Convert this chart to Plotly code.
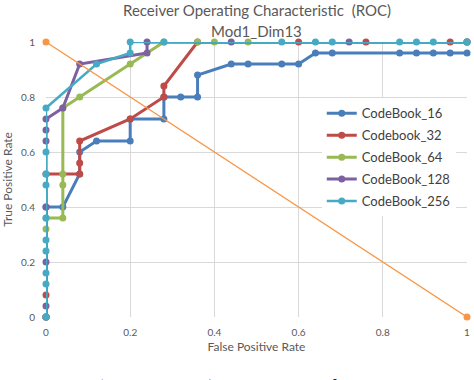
import plotly.graph_objects as go

# ---- data ----
series_names = ["CodeBook_16", "Codebook_32", "CodeBook_64", "CodeBook_128", "CodeBook_256"]

fpr_16 = [0, 0, 0.04, 0.08, 0.08, 0.12, 0.2, 0.2, 0.28, 0.28, 0.32, 0.36, 0.36, 0.44, 0.48, 0.56, 0.6, 0.64, 0.68, 0.84, 0.88, 0.92, 0.96, 1.0]
tpr_16 = [0, 0.4, 0.4, 0.52, 0.6, 0.64, 0.64, 0.72, 0.72, 0.8, 0.8, 0.8, 0.88, 0.92, 0.92, 0.92, 0.92, 0.96, 0.96, 0.96, 0.96, 0.96, 0.96, 0.96]

fpr_32 = [0, 0, 0, 0.08, 0.08, 0.08, 0.2, 0.28, 0.28, 0.36, 0.6, 0.76, 0.96, 1.0]
tpr_32 = [0, 0.08, 0.52, 0.52, 0.56, 0.64, 0.72, 0.8, 0.84, 1, 1, 1, 1, 1]

fpr_64 = [0, 0, 0, 0.04, 0.04, 0.04, 0.04, 0.08, 0.2, 0.28, 0.36, 0.4, 0.48, 1.0]
tpr_64 = [0, 0.32, 0.36, 0.36, 0.48, 0.52, 0.76, 0.8, 0.92, 1, 1, 1, 1, 1]

fpr_128 = [0, 0, 0, 0, 0, 0, 0, 0.04, 0.08, 0.24, 0.24, 0.44, 0.72, 1.0]
tpr_128 = [0, 0.04, 0.2, 0.4, 0.64, 0.68, 0.72, 0.76, 0.92, 0.96, 1, 1, 1, 1]

fpr_256 = [0, 0, 0, 0, 0, 0, 0, 0, 0, 0, 0.12, 0.2, 0.2, 0.28, 0.56, 0.64, 0.68, 0.84, 0.88, 0.92, 1.0]
tpr_256 = [0, 0.12, 0.16, 0.24, 0.28, 0.36, 0.48, 0.52, 0.6, 0.76, 0.92, 0.96, 1, 1, 1, 1, 1, 1, 1, 1, 1]

fpr_rand = [0, 1]
tpr_rand = [1, 0]

tick_vals = [0, 0.2, 0.4, 0.6, 0.8, 1]
tick_text = ["0", "0.2", "0.4", "0.6", "0.8", "1"]

# ---- style ----
colors = ["#4A7EBB", "#BE4B48", "#98B954", "#7D60A0", "#46AAC5"]
widths = [3, 3, 3, 3, 2.5]
FONT = "Lato"

fig = go.Figure()
all_x = [fpr_16, fpr_32, fpr_64, fpr_128, fpr_256]
all_y = [tpr_16, tpr_32, tpr_64, tpr_128, tpr_256]
for name, xs, ys, c, w in zip(series_names, all_x, all_y, colors, widths):
    fig.add_trace(go.Scatter(
        x=xs, y=ys, name=name, mode="lines+markers", legendgroup=name,
        line=dict(color=c, width=w),
        marker=dict(color=c, size=7),
        cliponaxis=False,
    ))

fig.add_trace(go.Scatter(
    x=fpr_rand, y=tpr_rand, mode="lines+markers", showlegend=False,
    line=dict(color="#F79646", width=1.3),
    marker=dict(color="#F79646", size=7),
    cliponaxis=False,
))

axis_common = dict(
    range=[0, 1], tickvals=tick_vals, ticktext=tick_text,
    showgrid=True, gridcolor="#D9D9D9", gridwidth=1,
    zeroline=False, showline=False, automargin=False,
    ticklabeloverflow="allow",
    tickfont=dict(family=FONT, size=10, color="#595959"),
    fixedrange=True,
)

fig.update_layout(
    width=474, height=380,
    margin=dict(l=46, r=7, t=42, b=63),
    paper_bgcolor="white", plot_bgcolor="white",
    font=dict(family=FONT, color="#595959"),
    xaxis=dict(**axis_common, ticklabelstandoff=8,
               title=dict(text="False Positive Rate", font=dict(family=FONT, size=12, color="#595959"), standoff=5)),
    yaxis=dict(**axis_common, ticklabelstandoff=10,
               title=dict(text="True Positive Rate", font=dict(family=FONT, size=12, color="#595959"), standoff=5)),
    legend=dict(
        x=0.655, y=0.795, xanchor="left", yanchor="top",
        bgcolor="white", borderwidth=0, itemwidth=30,
        font=dict(family=FONT, size=13, color="#404040"),
        tracegroupgap=2,
    ),
    annotations=[
        dict(text="Receiver Operating Characteristic  (ROC)", xref="paper", yref="paper",
             x=0.5, y=1.0, yshift=32, showarrow=False, xanchor="center", yanchor="middle",
             font=dict(family=FONT, size=15, color="#595959")),
        dict(text="Mod1_Dim13", xref="paper", yref="paper",
             x=0.5, y=1.0, yshift=11, showarrow=False, xanchor="center", yanchor="middle",
             font=dict(family=FONT, size=15, color="#595959")),
        dict(text="Fig. 11. (Color online) ROC curves for codebook sizes", xref="paper", yref="paper",
             x=0.5, y=0, yshift=-56, showarrow=False, xanchor="center", yanchor="top",
             font=dict(family="Liberation Serif", size=21, color="#222222")),
    ],
)

fig.write_html("out.html", config={"displayModeBar": False},
               post_script="document.body.style.margin='0';")
